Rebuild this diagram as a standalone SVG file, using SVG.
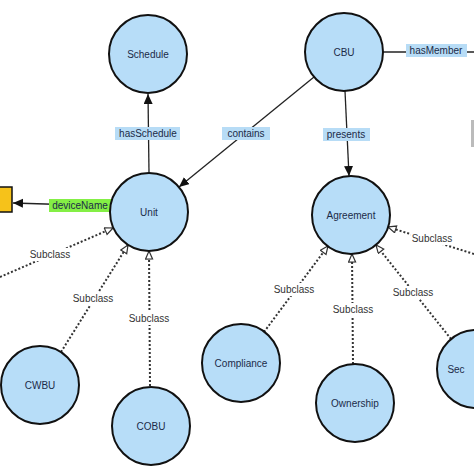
<svg xmlns="http://www.w3.org/2000/svg" width="474" height="474" viewBox="0 0 474 474">
<style>
.node circle{fill:#b7ddf8;stroke:#111;stroke-width:2}
.nl{font-family:"Liberation Sans",Arial,sans-serif;font-size:10px;fill:#1b2b48;text-anchor:middle}
.rel{stroke:#222;stroke-width:1.3;fill:none}
.sub{stroke:#333;stroke-width:2;stroke-dasharray:2,2;fill:none}
.lb{fill:#b7dcf6}
.sb{fill:#fff}
.lt{font-family:"Liberation Sans",Arial,sans-serif;font-size:10px;fill:#1b2b48;text-anchor:middle}
.st{font-family:"Liberation Sans",Arial,sans-serif;font-size:10px;fill:#333;text-anchor:middle}
</style>
<defs>
<marker id="arr" markerUnits="userSpaceOnUse" markerWidth="11" markerHeight="10" refX="10" refY="4.5" orient="auto">
<path d="M0,0 L10,4.5 L0,9 z" fill="#111"/>
</marker>
<marker id="tri" markerUnits="userSpaceOnUse" markerWidth="11" markerHeight="10" refX="9" refY="4" orient="auto">
<path d="M1,0.5 L9,4 L1,7.5 z" fill="#fff" stroke="#333" stroke-width="1.2"/>
</marker>
</defs>
<rect width="474" height="474" fill="#fff"/>
<g id="connectors">
<line class="rel" x1="149" y1="173" x2="148" y2="94" marker-end="url(#arr)"/>
<line class="rel" x1="314" y1="77" x2="179" y2="187" marker-end="url(#arr)"/>
<line class="rel" x1="345" y1="91" x2="349" y2="176" marker-end="url(#arr)"/>
<line class="rel" x1="110" y1="206" x2="13" y2="203" marker-end="url(#arr)"/>
<line class="rel" x1="383" y1="52" x2="474" y2="52"/>
<line class="sub" x1="0" y1="277" x2="113" y2="228" marker-end="url(#tri)"/>
<line class="sub" x1="61" y1="352" x2="128" y2="245" marker-end="url(#tri)"/>
<line class="sub" x1="150" y1="386" x2="149" y2="251" marker-end="url(#tri)"/>
<line class="sub" x1="264" y1="332" x2="328" y2="246" marker-end="url(#tri)"/>
<line class="sub" x1="353" y1="364" x2="352" y2="254" marker-end="url(#tri)"/>
<line class="sub" x1="451" y1="339" x2="376" y2="245" marker-end="url(#tri)"/>
<line class="sub" x1="474" y1="254" x2="388" y2="227" marker-end="url(#tri)"/>
<rect class="lb" x="115" y="127" width="65" height="13"/>
<text class="lt" x="148" y="137">hasSchedule</text>
<rect class="lb" x="222" y="127" width="48" height="13"/>
<text class="lt" x="246" y="137">contains</text>
<rect class="lb" x="323" y="128" width="47" height="13"/>
<text class="lt" x="346" y="138">presents</text>
<rect class="lb" x="406" y="44" width="61" height="13"/>
<text class="lt" x="436" y="54">hasMember</text>
<rect x="49" y="199" width="63" height="13" fill="#84ef45"/>
<text class="lt" x="80" y="209" fill="#1b3a10">deviceName</text>
<rect class="sb" x="29" y="248" width="43" height="13"/>
<text class="st" x="50" y="258">Subclass</text>
<rect class="sb" x="72" y="292" width="43" height="13"/>
<text class="st" x="93" y="302">Subclass</text>
<rect class="sb" x="128" y="312" width="43" height="13"/>
<text class="st" x="149" y="322">Subclass</text>
<rect class="sb" x="273" y="283" width="43" height="13"/>
<text class="st" x="294" y="293">Subclass</text>
<rect class="sb" x="332" y="303" width="43" height="13"/>
<text class="st" x="353" y="313">Subclass</text>
<rect class="sb" x="392" y="286" width="43" height="13"/>
<text class="st" x="413" y="296">Subclass</text>
<rect class="sb" x="411" y="232" width="43" height="13"/>
<text class="st" x="432" y="242">Subclass</text>
<rect x="471" y="120" width="3" height="27" fill="#bbb"/>
</g>
<g id="device">
<rect x="-5" y="187" width="17" height="25" fill="#f6c21a" stroke="#111" stroke-width="1.5"/>
</g>
<g id="Schedule" class="node"><circle cx="148" cy="54" r="39"/><text class="nl" x="148" y="58">Schedule</text></g>
<g id="CBU" class="node"><circle cx="344" cy="52" r="39"/><text class="nl" x="344" y="56">CBU</text></g>
<g id="Unit" class="node"><circle cx="149" cy="212" r="39"/><text class="nl" x="149" y="216">Unit</text></g>
<g id="Agreement" class="node"><circle cx="351" cy="215" r="39"/><text class="nl" x="351" y="219">Agreement</text></g>
<g id="CWBU" class="node"><circle cx="40" cy="385" r="39"/><text class="nl" x="40" y="389">CWBU</text></g>
<g id="COBU" class="node"><circle cx="151" cy="426" r="39"/><text class="nl" x="151" y="430">COBU</text></g>
<g id="Compliance" class="node"><circle cx="241" cy="363" r="39"/><text class="nl" x="241" y="367">Compliance</text></g>
<g id="Ownership" class="node"><circle cx="355" cy="403" r="39"/><text class="nl" x="355" y="407">Ownership</text></g>
<g id="Sec" class="node"><circle cx="476" cy="369" r="39"/><text class="nl" x="456" y="373" text-anchor="start">Sec</text></g>
</svg>
